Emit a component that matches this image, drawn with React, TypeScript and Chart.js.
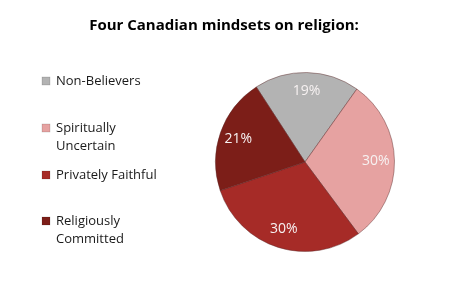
import React, { useEffect, useRef } from "react";
import { Chart, registerables } from "chart.js";

Chart.register(...registerables);

const titleText = "Four Canadian mindsets on religion:";
const categories = ["Non-Believers", "Spiritually Uncertain", "Privately Faithful", "Religiously Committed"];
const legendLines = [["Non-Believers"], ["Spiritually", "Uncertain"], ["Privately Faithful"], ["Religiously", "Committed"]];
const shares = [19, 30, 30, 21];
const sliceColors = ["#b3b3b3", "#e6a2a1", "#a62b27", "#7c1e18"];

const FONT = "'Open Sans', 'Liberation Sans', sans-serif";

const overlayPlugin = {
  id: "overlay",
  afterDraw(chart: any) {
    const ctx = chart.ctx as CanvasRenderingContext2D;
    ctx.save();
    // title
    ctx.fillStyle = "#000";
    ctx.font = `bold 15px ${FONT}`;
    ctx.textAlign = "center";
    ctx.textBaseline = "middle";
    ctx.fillText(titleText, 224, 26);

    // legend
    const legendY = [81, 128, 175, 221];
    ctx.font = `13px ${FONT}`;
    ctx.textAlign = "left";
    legendLines.forEach((lines, i) => {
      const y = legendY[i];
      ctx.fillStyle = sliceColors[i];
      ctx.fillRect(42, y - 4, 8, 8);
      ctx.strokeStyle = "rgba(0,0,0,0.25)";
      ctx.lineWidth = 0.5;
      ctx.strokeRect(42, y - 4, 8, 8);
      ctx.fillStyle = "#1a1a1a";
      lines.forEach((ln, j) => {
        ctx.fillText(ln, 56, y + j * 18);
      });
    });

    // percentage labels
    const meta = chart.getDatasetMeta(0);
    ctx.font = `14px ${FONT}`;
    ctx.textAlign = "center";
    ctx.fillStyle = "#f7f2f2";
    meta.data.forEach((arc: any, i: number) => {
      const { x, y, startAngle, endAngle, outerRadius } = arc.getProps(["x", "y", "startAngle", "endAngle", "outerRadius"], true);
      const mid = (startAngle + endAngle) / 2;
      const r = outerRadius * 0.79;
      ctx.fillText(`${shares[i]}%`, x + Math.cos(mid) * r, y + Math.sin(mid) * r);
    });
    ctx.restore();
  },
};

export default function App() {
  const ref = useRef<HTMLCanvasElement>(null);
  useEffect(() => {
    if (!ref.current) return;
    const chart = new Chart(ref.current, {
      type: "pie",
      data: {
        labels: categories,
        datasets: [
          {
            data: shares,
            backgroundColor: sliceColors,
            borderColor: "rgba(90,40,40,0.45)",
            borderWidth: 1,
          },
        ],
      },
      options: {
        animation: false,
        responsive: false,
        rotation: -33,
        layout: { padding: { left: 215, right: 55, top: 72, bottom: 34 } },
        plugins: {
          legend: { display: false },
          tooltip: { enabled: false },
          title: { display: false },
        },
      },
      plugins: [overlayPlugin],
    });
    return () => chart.destroy();
  }, []);
  return (
    <div style={{ position: "absolute", left: 0, top: 0, width: 450, height: 286, background: "#fff" }}>
      <canvas ref={ref} width={450} height={286} style={{ width: 450, height: 286 }} />
    </div>
  );
}
